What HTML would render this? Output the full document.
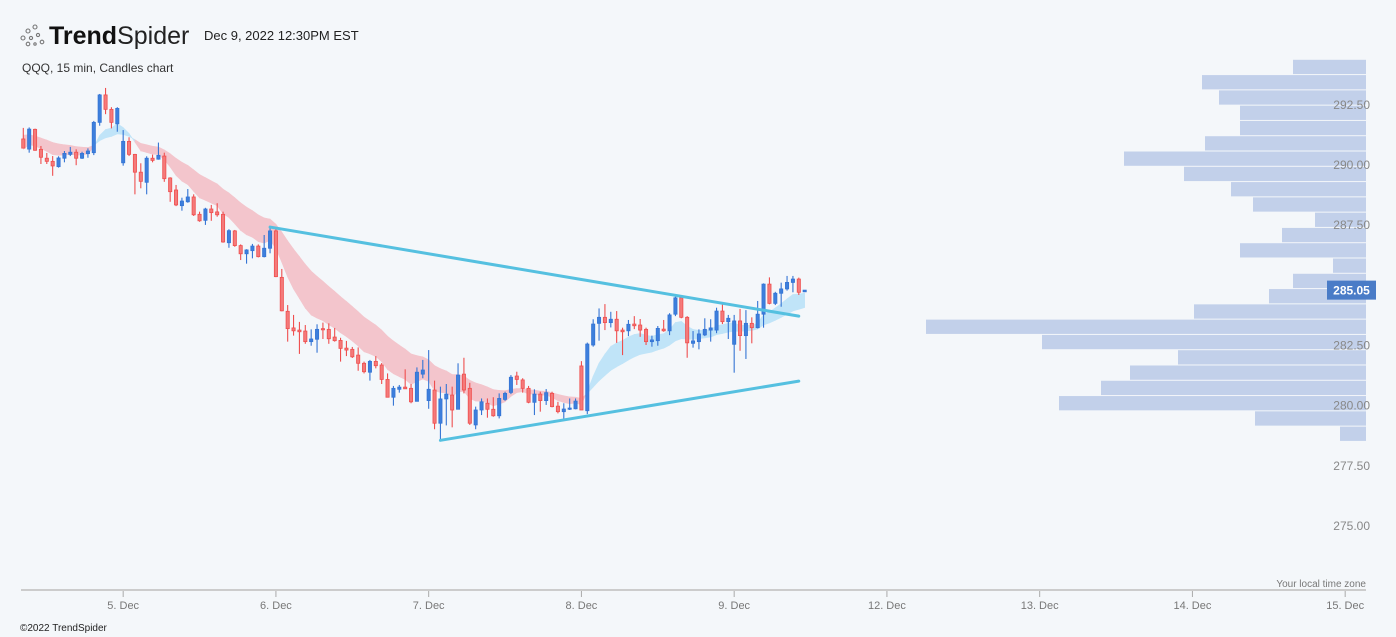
<!DOCTYPE html>
<html><head><meta charset="utf-8">
<style>
html,body{margin:0;padding:0;background:#f4f7fa;}
body{width:1396px;height:637px;overflow:hidden;position:relative;font-family:"Liberation Sans",sans-serif;}
svg{position:absolute;left:0;top:0;}
</style></head>
<body>
<svg id="chart" width="1396" height="637" viewBox="0 0 1396 637" xmlns="http://www.w3.org/2000/svg">
  <g>
    <g fill="none" stroke="#777" stroke-width="1.1">
      <circle cx="23" cy="38" r="2"/><circle cx="28" cy="31" r="2"/><circle cx="35" cy="27" r="2"/>
      <circle cx="31" cy="38" r="1.6"/><circle cx="38" cy="35" r="1.6"/><circle cx="28" cy="44" r="1.8"/>
      <circle cx="42" cy="42" r="1.8"/><circle cx="35" cy="44" r="1.2"/>
    </g>
    <text x="49" y="44" font-size="25" fill="#111"><tspan font-weight="bold">Trend</tspan><tspan font-weight="normal" fill="#222">Spider</tspan></text>
  </g>
  <text x="204" y="40" font-size="13" fill="#222">Dec 9, 2022 12:30PM EST</text>
  <text x="22" y="72" font-size="12" fill="#333">QQQ, 15 min, Candles chart</text>
  <g id="vp"></g>
  <g id="ribbon"></g>
  <g id="candles"></g>
  <g id="lines"></g>
  <g id="yaxis"></g>
  <g id="xaxis"></g>
  <text x="1366" y="587" font-size="10" fill="#777" text-anchor="end">Your local time zone</text>
  <text x="20" y="631" font-size="10" fill="#222">©2022 TrendSpider</text>
</svg>
<script>
const opens=[291.04,290.62,291.44,290.61,290.24,290.11,289.89,290.24,290.40,290.49,290.24,290.43,290.47,291.73,292.87,292.27,291.67,290.05,290.94,290.40,289.66,289.24,290.24,290.20,290.33,289.42,288.92,288.27,288.43,288.63,287.91,287.66,288.13,288.01,287.91,286.73,287.22,286.61,286.27,286.40,286.59,286.15,286.50,287.22,285.29,283.88,283.19,283.10,283.06,282.62,282.72,283.16,283.13,282.81,282.67,282.35,282.30,282.06,281.72,281.35,281.80,281.65,281.05,280.31,280.64,280.73,280.68,280.14,281.27,280.17,280.61,279.23,280.24,280.40,279.81,281.27,280.68,279.16,279.78,280.06,279.81,279.54,280.22,280.51,281.19,281.03,280.68,280.10,280.44,280.17,280.47,279.94,279.71,279.81,279.83,281.61,279.75,282.48,283.38,283.63,283.41,283.55,283.10,283.07,283.35,283.31,283.13,282.62,282.66,283.14,283.07,283.76,284.44,283.63,282.55,282.62,282.90,283.10,283.10,283.89,283.45,282.51,283.48,282.87,283.38,283.20,283.76,285.01,284.21,284.63,284.81,285.08,285.22,284.69];
const highs=[291.50,291.52,291.47,290.75,290.46,290.33,290.32,290.54,290.71,290.61,290.51,290.65,291.79,292.91,293.16,292.36,292.36,291.41,291.11,290.42,290.03,290.32,290.39,290.89,290.47,289.45,289.13,288.60,288.96,288.74,288.02,288.18,288.30,288.37,288.02,287.29,287.26,286.66,286.46,286.68,286.66,287.05,287.42,287.39,285.64,284.14,283.73,283.44,283.31,283.13,283.34,283.41,283.38,283.19,282.78,282.65,282.40,282.38,281.79,281.86,282.02,281.73,281.30,280.78,280.82,281.47,280.86,281.55,281.86,282.27,281.00,280.75,280.86,280.75,281.72,281.95,280.91,279.92,280.26,280.26,280.31,280.47,280.54,281.23,281.37,281.10,280.78,280.64,280.54,280.65,280.54,280.12,280.06,280.26,280.26,281.81,282.58,283.55,284.00,284.18,283.86,283.89,283.20,283.52,283.68,283.56,283.20,282.87,283.27,283.52,283.80,284.52,284.52,283.68,283.06,283.13,283.59,283.55,284.03,284.18,283.73,283.73,283.98,283.93,283.63,284.31,285.04,285.29,284.69,285.07,285.35,285.35,285.28,284.76];
const lows=[290.66,290.47,290.55,290.00,290.00,289.51,289.85,290.07,290.33,289.95,290.21,290.26,290.37,291.59,292.07,291.48,291.34,289.93,290.33,288.74,288.99,288.74,290.07,290.18,289.26,288.43,288.25,288.06,288.39,287.84,287.60,287.47,287.64,287.81,286.73,286.52,286.56,286.01,285.86,286.08,286.12,286.12,286.29,285.30,283.88,282.62,282.87,282.11,282.53,282.45,282.16,282.73,282.53,282.62,281.79,282.02,281.94,281.41,281.30,281.00,281.51,280.86,280.31,279.96,280.50,280.66,280.06,280.14,281.10,279.83,278.98,278.50,279.14,279.06,279.81,280.47,279.16,278.98,279.57,279.46,279.50,279.43,280.16,280.44,280.82,280.50,280.06,279.57,279.71,279.99,279.89,279.64,279.39,279.78,279.81,279.78,279.61,282.41,282.66,283.10,283.21,282.57,282.06,282.85,283.14,282.82,282.48,282.41,282.45,283.03,282.89,283.68,283.59,281.95,282.37,282.30,282.85,282.62,282.97,283.35,282.73,281.33,282.24,281.90,282.55,283.17,283.20,284.17,284.14,284.07,284.74,284.67,284.56,284.69];
const closes=[290.66,291.45,290.57,290.28,290.11,289.92,290.25,290.44,290.49,290.24,290.44,290.54,291.73,292.87,292.27,291.73,292.31,290.94,290.40,289.66,289.28,290.24,290.15,290.36,289.39,288.85,288.30,288.46,288.63,287.89,287.64,288.13,287.98,287.89,286.76,287.23,286.61,286.27,286.43,286.59,286.15,286.50,287.22,285.32,283.90,283.16,283.07,283.03,282.62,282.73,283.13,283.12,282.74,282.66,282.34,282.27,281.99,281.72,281.37,281.80,281.62,281.05,280.31,280.68,280.73,280.66,280.12,281.35,281.44,280.64,279.23,280.24,280.44,279.78,281.23,280.61,279.23,279.78,280.12,279.81,279.54,280.26,280.47,281.14,281.05,280.68,280.10,280.44,280.17,280.50,279.92,279.71,279.82,279.86,280.15,279.78,282.52,283.35,283.63,283.41,283.55,283.07,283.03,283.34,283.28,283.10,282.62,282.69,283.17,283.07,283.73,284.44,283.63,282.57,282.65,282.94,283.13,283.19,283.89,283.45,283.59,283.48,282.87,283.38,283.20,283.76,285.01,284.21,284.63,284.81,285.08,285.22,284.67,284.76];
const lastPriceLabel="285.05";
const emaSeedFast=290.6, emaSeedSlow=291.25;
const emaFastLen=8, emaSlowLen=21;
const vpVolumes=[730,1640,1470,1260,1260,1610,2420,1820,1350,1130,510,840,1260,330,730,970,1720,4400,3240,1880,2360,2650,3070,1110,260];
const vpTopPrice=294.35, vpBinSize=0.635;
const yTicks=[292.5,290,287.5,285,282.5,280,277.5,275];
const yTickLabels=["292.50","290.00","287.50","","282.50","280.00","277.50","275.00"];
const xTickIdx=[17,43,69,95,121,147,173,199,225];
const xTickLabels=["5. Dec","6. Dec","7. Dec","8. Dec","9. Dec","12. Dec","13. Dec","14. Dec","15. Dec"];
const upperLine=[[42,287.38],[132,283.68]];
const lowerLine=[[71,278.52],[132,280.98]];

const NS="http://www.w3.org/2000/svg";
function X(i){return 23.3+i*5.875;}
function Y(p){return 164+(290-p)*24.07;}
function mk(tag,attrs,parent){const e=document.createElementNS(NS,tag);for(const k in attrs)e.setAttribute(k,attrs[k]);parent.appendChild(e);return e;}

// volume profile
const vp=document.getElementById('vp');
const vpRight=1366, vpScale=0.1;
vpVolumes.forEach((v,k)=>{
  const top=Y(vpTopPrice-k*vpBinSize), bot=Y(vpTopPrice-(k+1)*vpBinSize);
  const w=v*vpScale;
  const r=mk('rect',{x:vpRight-w,y:top+0.5,width:w,height:bot-top-1,fill:'#c2d0ea'},vp);
  
  
});

// EMA ribbon
function ema(arr,len,seed){const a=2/(len+1);let e=seed;return arr.map(c=>{e=e+a*(c-e);return e;});}
const fast=ema(closes,emaFastLen,emaSeedFast), slow=ema(closes,emaSlowLen,emaSeedSlow);
const rib=document.getElementById('ribbon');
for(let i=0;i<closes.length-1;i++){
  const up=(fast[i]+fast[i+1])>(slow[i]+slow[i+1]);
  const col=up?'#c0e4f8':'#f3c5cc';
  const pts=[[X(i),Y(fast[i])],[X(i+1),Y(fast[i+1])],[X(i+1),Y(slow[i+1])],[X(i),Y(slow[i])]].map(p=>p.join(',')).join(' ');
  const pg=mk('polygon',{points:pts,fill:col,stroke:col,'stroke-width':0.6},rib);
  
  
}

// candles
const cg=document.getElementById('candles');
closes.forEach((c,i)=>{
  const o=opens[i],h=highs[i],l=lows[i];
  const up=c>=o;
  const stroke=up?'#3474d4':'#ef4e4e';
  const fill=up?'#3d7fdc':'#f47a7a';
  const x=X(i);
  const g=mk('g',{},cg);
  
  
  mk('line',{x1:x,x2:x,y1:Y(h),y2:Y(l),stroke:stroke,'stroke-width':1.1},g);
  const t=Y(Math.max(o,c)), b=Y(Math.min(o,c));
  mk('rect',{x:x-1.6,y:t,width:3.2,height:Math.max(1.2,b-t),fill:fill,stroke:stroke,'stroke-width':0.8},g);
});

// trendlines
const lg=document.getElementById('lines');
[upperLine,lowerLine].forEach((ln,k)=>{
  const e=mk('line',{x1:X(ln[0][0]),y1:Y(ln[0][1]),x2:X(ln[1][0]),y2:Y(ln[1][1]),stroke:'#55c0e0','stroke-width':3,'stroke-linecap':'round'},lg);
  
  
});

// y axis
const ya=document.getElementById('yaxis');
yTicks.forEach((p,k)=>{
  if(!yTickLabels[k])return;
  const t=mk('text',{x:1370,y:Y(p)+5,'font-size':12,fill:'#888','text-anchor':'end'},ya);
  t.textContent=yTickLabels[k];
  
  
});
const lastY=Y(closes[closes.length-1]);
const lb=mk('rect',{x:1327,y:lastY-9.5,width:49,height:19,fill:'#4a7cc7'},ya);


const lt=mk('text',{x:1351.5,y:lastY+4.5,'font-size':12,'font-weight':'bold',fill:'#fff','text-anchor':'middle'},ya);
lt.textContent=lastPriceLabel;



// x axis
const xa=document.getElementById('xaxis');
const axl=mk('line',{x1:21,x2:1366,y1:590,y2:590,stroke:'#cccccc','stroke-width':2},xa);


xTickIdx.forEach((ix,k)=>{
  const x=X(ix);
  const tk=mk('line',{x1:x,x2:x,y1:591,y2:597,stroke:'#aaa','stroke-width':1},xa);
  
  
  const t=mk('text',{x:x,y:609,'font-size':11,fill:'#777','text-anchor':'middle'},xa);
  t.textContent=xTickLabels[k];
  
  
});
</script>
</body></html>
